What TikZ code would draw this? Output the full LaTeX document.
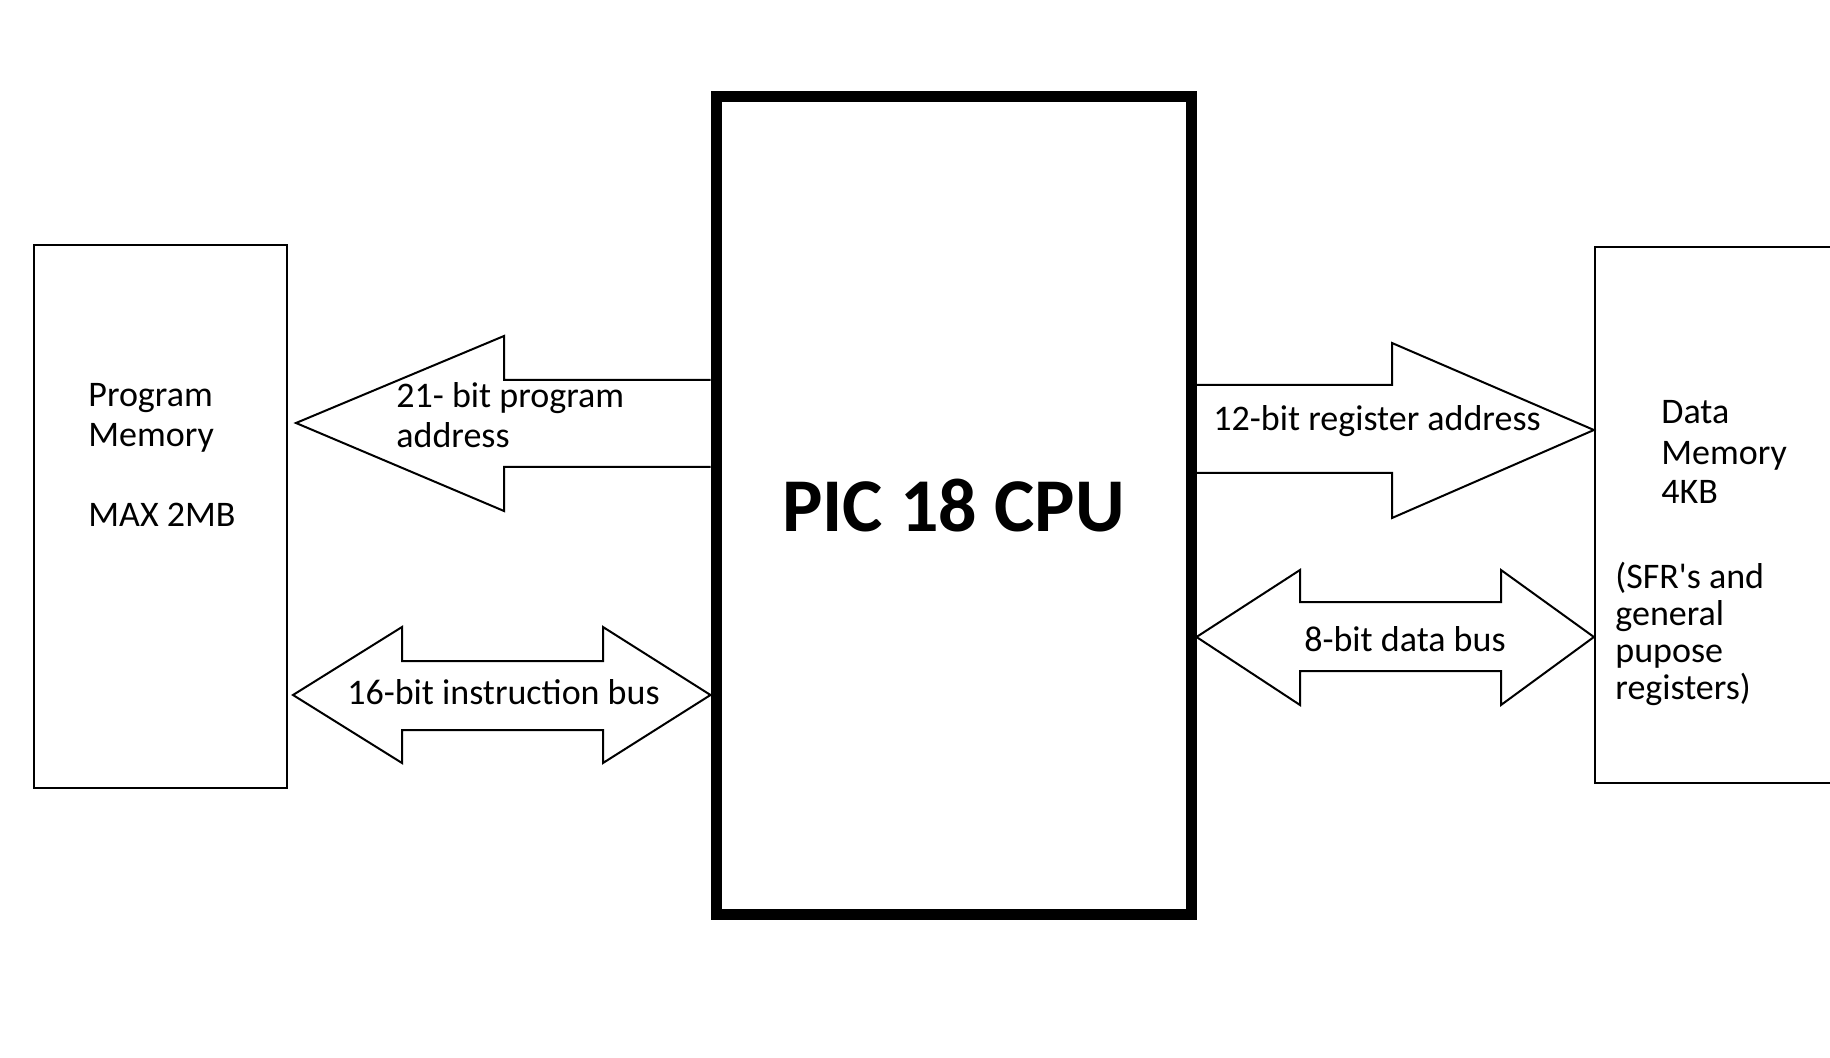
\documentclass[tikz,border=0pt]{standalone}
\usepackage{fontspec}
\setmainfont{Carlito}[Ligatures=TeXOff]
\usetikzlibrary{positioning}

\begin{document}
\begin{tikzpicture}[
  x=0.5pt, y=-0.5pt,
  membox/.style={
    draw,
    line width=1.1pt,
    inner sep=0pt
  },
  cpubox/.style={
    draw,
    line width=5.5pt,
    minimum width=237.5pt,
    minimum height=408.5pt,
    font=\fontsize{38}{44}\selectfont\bfseries
  },
  bus/.style={draw,line width=1pt,line join=miter},
  txt/.style={inner sep=0pt,align=left,font=\fontsize{18}{20}\selectfont}
]
  \useasboundingbox (0,0) rectangle (1830,1058);
  \clip (0,0) rectangle (1830,1058);

  \node[cpubox] (cpu) at (953.5,505.5) {PIC 18 CPU};
  \node[membox,minimum width=126.5pt,minimum height=271.5pt] (prog)
    at (160.5,516.5) {};
  \node[membox,minimum width=152.5pt,minimum height=268pt] (data)
    at (1747.5,515) {};

  % text blocks (anchored at the baseline of their last line)
  \node[txt,anchor=base west] (progtxt) at (88,527)
    {Program\\Memory\\[20pt]MAX 2MB};
  \node[txt,anchor=base west] (datatxt) at (1661,504)
    {Data\\Memory\\4KB};
  \node[txt,anchor=base west,font=\fontsize{18}{18.5}\selectfont] (sfrtxt)
    at (1615,699) {(SFR's and\\general\\pupose\\registers)};

  % left side buses
  \draw[bus] (cpu.west |- 0,380) -- (504,380) -- (504,336) -- (296,423)
    -- (504,511) -- (504,467) -- (cpu.west |- 0,467);
  \node[txt,anchor=base west] (addrtxt) at (396,448)
    {21- bit program\\address};
  \draw[bus] (293,695) -- (402,627) -- (402,661) -- (603,661) -- (603,627)
    -- (cpu.west |- 0,695) -- (603,763) -- (603,730) -- (402,730)
    -- (402,763) -- cycle;
  \node[txt,anchor=base] (instrtxt) at (503.5,704) {16-bit instruction bus};

  % right side buses
  \draw[bus] (cpu.east |- 0,385) -- (1392,385) -- (1392,343)
    -- (data.west |- 0,430) -- (1392,518) -- (1392,473) -- (cpu.east |- 0,473);
  \node[txt,anchor=base west] (regtxt) at (1213,431) {12-bit register address};
  \draw[bus] (cpu.east |- 0,637) -- (1300,570) -- (1300,602) -- (1501,602)
    -- (1501,570) -- (data.west |- 0,637) -- (1501,705) -- (1501,671)
    -- (1300,671) -- (1300,705) -- cycle;
  \node[txt,anchor=base] (busdatatxt) at (1405,651) {8-bit data bus};
\end{tikzpicture}
\end{document}
